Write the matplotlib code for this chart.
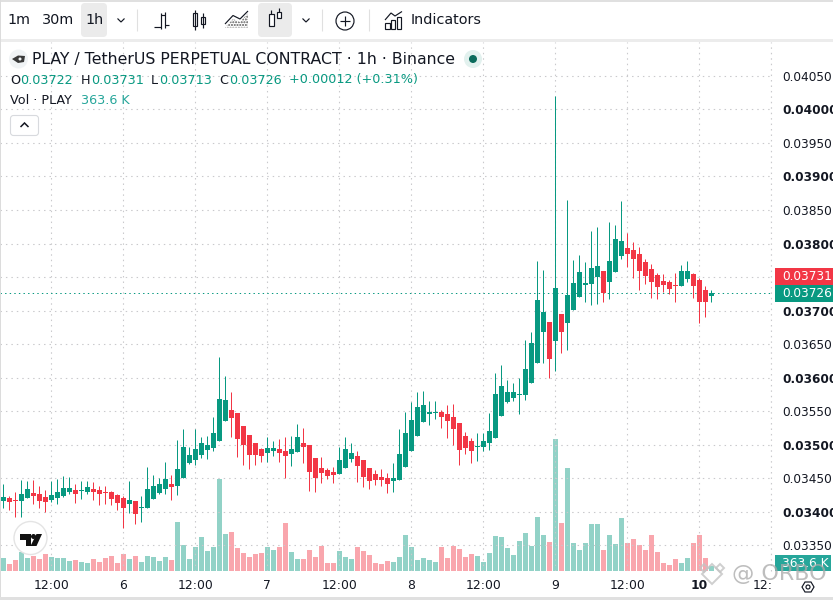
"""
PLAY/USDT perpetual 1h candles with volume, in a TradingView style layout.
Saves out.png (833x600).
"""

import numpy as np
import matplotlib
matplotlib.use("Agg")
import matplotlib.pyplot as plt
from matplotlib.patches import Circle, FancyBboxPatch, Polygon, Rectangle
from matplotlib.transforms import Bbox

# ---------------------------------------------------------------------------
# Data (prices in units of 0.00001, volume in thousands)
# ---------------------------------------------------------------------------
opens = [3417, 3421, 3418, 3417, 3421, 3428, 3427, 3423, 3418, 3421,
         3424, 3430, 3433, 3431, 3430, 3434, 3433, 3430, 3430, 3425,
         3421, 3412, 3417, 3406, 3406, 3420, 3428, 3434, 3442, 3439,
         3451, 3473, 3478, 3485, 3493, 3496, 3506, 3536, 3552, 3548,
         3528, 3515, 3502, 3494, 3488, 3491, 3494, 3491, 3487, 3490,
         3502, 3500, 3481, 3466, 3463, 3460, 3457, 3466, 3479, 3484,
         3478, 3466, 3457, 3452, 3451, 3446, 3448, 3467, 3491, 3513,
         3534, 3546, 3548, 3549, 3546, 3542, 3533, 3513, 3506, 3497,
         3497, 3502, 3510, 3543, 3564, 3570, 3575, 3574, 3592, 3622,
         3668, 3683, 3655, 3695, 3682, 3701, 3720, 3738, 3740, 3750,
         3759, 3743, 3758, 3781, 3793, 3790, 3784, 3772, 3762, 3753,
         3744, 3743, 3738, 3737, 3747, 3755, 3746, 3731, 3722]
highs = [3442, 3424, 3430, 3448, 3446, 3448, 3439, 3433, 3446, 3449,
         3454, 3452, 3442, 3446, 3446, 3445, 3439, 3439, 3431, 3427,
         3424, 3446, 3417, 3424, 3467, 3455, 3451, 3475, 3455, 3507,
         3524, 3497, 3524, 3512, 3513, 3542, 3631, 3603, 3578, 3548,
         3528, 3515, 3503, 3496, 3512, 3506, 3509, 3512, 3513, 3531,
         3525, 3500, 3481, 3482, 3466, 3467, 3497, 3512, 3503, 3491,
         3478, 3466, 3463, 3464, 3458, 3473, 3524, 3549, 3564, 3579,
         3580, 3566, 3566, 3552, 3560, 3561, 3533, 3519, 3510, 3518,
         3518, 3548, 3607, 3619, 3597, 3592, 3600, 3656, 3668, 3774,
         3761, 3683, 4020, 3695, 3865, 3775, 3783, 3772, 3819, 3825,
         3759, 3832, 3828, 3863, 3816, 3802, 3795, 3777, 3769, 3756,
         3755, 3746, 3756, 3768, 3774, 3756, 3749, 3737, 3731]
lows = [3406, 3403, 3393, 3393, 3421, 3412, 3406, 3400, 3415, 3412,
        3423, 3427, 3414, 3420, 3427, 3418, 3411, 3412, 3411, 3403,
        3376, 3399, 3382, 3385, 3406, 3420, 3427, 3427, 3418, 3425,
        3451, 3472, 3470, 3481, 3479, 3491, 3506, 3536, 3512, 3482,
        3470, 3464, 3470, 3475, 3475, 3484, 3475, 3451, 3469, 3490,
        3473, 3431, 3430, 3443, 3449, 3443, 3457, 3466, 3475, 3445,
        3437, 3434, 3440, 3439, 3428, 3430, 3448, 3467, 3491, 3513,
        3534, 3530, 3539, 3525, 3510, 3500, 3470, 3487, 3473, 3476,
        3491, 3493, 3510, 3543, 3563, 3566, 3546, 3567, 3592, 3622,
        3622, 3600, 3610, 3637, 3641, 3701, 3720, 3713, 3708, 3710,
        3713, 3717, 3758, 3777, 3765, 3749, 3731, 3740, 3719, 3717,
        3728, 3725, 3713, 3737, 3743, 3719, 3682, 3691, 3713]
closes = [3423, 3415, 3417, 3427, 3434, 3424, 3417, 3415, 3425, 3430,
          3436, 3436, 3427, 3433, 3437, 3430, 3427, 3428, 3420, 3414,
          3406, 3418, 3397, 3408, 3434, 3439, 3442, 3449, 3437, 3464,
          3497, 3485, 3494, 3502, 3500, 3518, 3569, 3567, 3540, 3509,
          3500, 3485, 3485, 3484, 3496, 3496, 3488, 3484, 3494, 3512,
          3497, 3460, 3451, 3458, 3454, 3455, 3478, 3494, 3488, 3469,
          3452, 3446, 3448, 3448, 3442, 3451, 3487, 3518, 3537, 3557,
          3560, 3549, 3549, 3542, 3536, 3524, 3493, 3496, 3491, 3499,
          3506, 3521, 3576, 3588, 3578, 3579, 3576, 3613, 3652, 3716,
          3698, 3628, 3734, 3668, 3723, 3741, 3758, 3741, 3764, 3766,
          3726, 3774, 3807, 3804, 3784, 3777, 3759, 3752, 3743, 3735,
          3738, 3732, 3737, 3759, 3759, 3737, 3713, 3713, 3726]
volumes = [975, 525, 825, 1425, 975, 1125, 900, 1275, 1050, 975,
           975, 750, 825, 675, 600, 900, 675, 975, 1125, 600,
           1275, 900, 1125, 675, 1125, 1050, 750, 1050, 825, 3675,
           1950, 900, 1800, 2550, 1500, 1800, 6900, 2775, 2925, 1725,
           1350, 1050, 1275, 1350, 1800, 1575, 1800, 3600, 1425, 900,
           900, 1575, 1050, 1875, 600, 600, 1500, 1050, 900, 1800,
           1500, 1200, 600, 525, 750, 675, 1050, 2700, 1800, 825,
           975, 825, 675, 1800, 975, 1875, 1650, 1050, 1275, 1125,
           675, 1350, 2625, 2550, 1725, 1200, 2250, 2850, 1875, 4050,
           2700, 2175, 9900, 3600, 7725, 2100, 1575, 2100, 3525, 3525,
           1575, 2700, 2025, 3975, 2100, 2400, 1950, 1575, 2700, 1425,
           600, 450, 900, 600, 975, 2100, 2700, 975, 363.6]

price_ticks = [0.0335, 0.0340, 0.0345, 0.0350, 0.0355, 0.0360, 0.0365,
               0.0370, 0.0375, 0.0380, 0.0385, 0.0390, 0.0395, 0.0400, 0.0405]
time_ticks = [8, 20, 32, 44, 56, 68, 80, 92, 104, 116, 128]
time_labels = ["12:00", "6", "12:00", "7", "12:00", "8", "12:00", "9", "12:00", "10", "12:00"]

UP = "#089981"
DOWN = "#F23645"
GRID = "#c9c9cc"
TEXT = "#131722"
FONT = "DejaVu Sans"

plt.rcParams["font.family"] = FONT

opens = np.array(opens) / 1e5
highs = np.array(highs) / 1e5
lows = np.array(lows) / 1e5
closes = np.array(closes) / 1e5
volumes = np.array(volumes)
hours = np.arange(len(closes))
rising = closes >= opens
colors = np.where(rising, UP, DOWN)

W, H = 833, 600
fig = plt.figure(figsize=(W / 100, H / 100), dpi=100, facecolor="white")


def box(left, top, right, bottom):
    return [left / W, 1 - bottom / H, (right - left) / W, (bottom - top) / H]


# ---------------------------------------------------------------------------
# Price pane with the volume pane behind it
# ---------------------------------------------------------------------------
ax = fig.add_axes(box(0, 42, 771, 571))
vol = ax.twinx()
ax.set_zorder(vol.get_zorder() + 1)
ax.patch.set_visible(False)

# 6 px per hour, so bodies of 5/6 land on whole pixels
ax.set_xlim(-3.5 / 6, 767.5 / 6)
ax.set_ylim(0.033120, 0.041003)
vol.set_ylim(0, 39675)
vol.axis("off")

vol.bar(hours, volumes, width=5 / 6, color=colors, alpha=0.44, linewidth=0)
ax.vlines(hours, lows, highs, colors=colors, linewidth=0.72, zorder=3)
ax.bar(hours, np.abs(closes - opens), bottom=np.minimum(opens, closes), width=5 / 6,
       color=colors, linewidth=0, zorder=4)

ax.axhline(closes[-1], color=UP, linewidth=0.72, linestyle=(0, (1.4, 3.2)), zorder=2)

for side in ax.spines.values():
    side.set_visible(False)
for side in vol.spines.values():
    side.set_visible(False)

ax.set_yticks(price_ticks)
# 0.03750 sits behind the two price tags, so it gets no label
ax.set_yticklabels(["" if round(p * 1e5) == 3750 else "%.5f" % p for p in price_ticks])
ax.yaxis.tick_right()
ax.tick_params(axis="y", length=0, pad=8, labelsize=8.75, labelcolor=TEXT)
for p, label in zip(price_ticks, ax.get_yticklabels()):
    if round(p * 1e5) % 100 == 0:
        label.set_fontweight("bold")

ax.set_xticks(time_ticks)
ax.set_xticklabels(time_labels)
ax.tick_params(axis="x", length=0, pad=6, labelsize=8.9, labelcolor=TEXT)
time_clip = Bbox([[0, 0], [771, H]])
for t, label in zip(time_ticks, ax.get_xticklabels()):
    label.set_clip_on(True)
    label.set_clip_box(time_clip)
    if t == 116:
        label.set_fontweight("bold")

ax.set_axisbelow(True)
ax.grid(True, color=GRID, linewidth=0.8, linestyle=(0, (1.3, 3.6)))
ax.vlines(128, *ax.get_ylim(), color=GRID, linewidth=0.8, linestyle=(0, (1.3, 3.6)), clip_on=False)

# ---------------------------------------------------------------------------
# Overlay in pixel coordinates: toolbar, legend, tags
# ---------------------------------------------------------------------------
ui = fig.add_axes([0, 0, 1, 1], zorder=10)
ui.set_xlim(0, W)
ui.set_ylim(H, 0)
ui.axis("off")
ui.patch.set_visible(False)


def rect(x0, y0, x1, y1, color, **kw):
    ui.add_patch(Rectangle((x0, y0), x1 - x0, y1 - y0, facecolor=color, linewidth=0, **kw))


def rounded(x0, y0, x1, y1, face, edge="none", r=4):
    ui.add_patch(FancyBboxPatch((x0 + r, y0 + r), x1 - x0 - 2 * r, y1 - y0 - 2 * r,
                                boxstyle="round,pad=%d,rounding_size=%d" % (r, r),
                                facecolor=face, edgecolor=edge, linewidth=0.8))


def stroke(xs, ys, color=TEXT, lw=0.85):
    ui.plot(xs, ys, color=color, linewidth=lw, solid_capstyle="butt", solid_joinstyle="miter")


def outlined(x0, y0, x1, y1):
    ui.add_patch(Rectangle((x0, y0), x1 - x0, y1 - y0, facecolor="white", edgecolor=TEXT, linewidth=0.85))


# window edges and toolbar band
rect(0, 0, W, 1.5, "#e0e0e0")
rect(0, 39, W, 42, "#ececec")
rect(0, 0, 1.2, H, "#dcdcdc")
rect(0, 597, W, H, "#e0e0e0")
rect(0, 1.5, W, 39, "white", zorder=0.5)

rounded(81, 3, 107, 37, "#ebebeb")
rounded(258, 3, 292, 37, "#ebebeb")

ui.text(7.5, 20.5, "1m", fontsize=10.4, color=TEXT, va="center")
ui.text(41.5, 20.5, "30m", fontsize=10.4, color=TEXT, va="center")
ui.text(85, 20.5, "1h", fontsize=10.4, color=TEXT, va="center")
ui.text(411, 20.5, "Indicators", fontsize=10.4, color=TEXT, va="center")

for cx in (121, 306):
    stroke([cx - 3.5, cx, cx + 3.5], [18.5, 22, 18.5])
for sx in (137.5, 322.5, 369.5):
    stroke([sx, sx], [9, 31], color="#e0e0e0", lw=0.8)

# bars icon
stroke([161, 161], [13, 29])
stroke([165.5, 165.5], [12, 28])
stroke([154.5, 161], [27, 27])
stroke([161, 165.5], [15, 15])
stroke([165.5, 169.5], [25, 25])
# candles icon
stroke([195.5, 195.5], [10, 30])
outlined(193, 13, 197.5, 26)
stroke([203.5, 203.5], [13, 28])
outlined(201.5, 17, 205.5, 24)
# area icon
ui.add_patch(Polygon([(225, 27.5), (233, 19), (240, 22), (248, 13), (248, 27.5)], closed=True,
                     facecolor="white", edgecolor="#555555", hatch="......", linewidth=0))
stroke([225, 233, 240, 248], [24, 15.5, 19, 11])
# selected candles icon
stroke([271.5, 271.5], [9.5, 14])
outlined(269, 14, 274, 26)
stroke([279.5, 279.5], [8, 12])
outlined(277.5, 12, 281.5, 18)
# plus icon
ui.add_patch(Circle((345, 21), 9, facecolor="none", edgecolor=TEXT, linewidth=0.85))
stroke([340, 350], [21, 21])
stroke([345, 345], [16, 26])
# indicators icon
outlined(385.5, 23, 390, 28.5)
outlined(391, 20, 395.5, 28.5)
outlined(397, 17, 401.5, 28.5)
stroke([385, 391, 395, 402], [20, 13, 16, 11.5])

# legend
ui.add_patch(Circle((18.5, 59), 9.5, facecolor="#f0f3f5", edgecolor="none"))
ui.add_patch(Polygon([(12, 59), (18, 55.5), (25, 56), (24, 62), (18, 63)], closed=True,
                     facecolor="#3a3a3a", edgecolor="none"))
ui.add_patch(Circle((20, 59), 1.5, facecolor="#f0f3f5", edgecolor="none"))
ui.text(32.5, 59.5, "PLAY / TetherUS PERPETUAL CONTRACT · 1h · Binance",
        fontsize=11.3, color=TEXT, va="center")
ui.add_patch(Circle((473, 59), 9, facecolor="#e2f1ee", edgecolor="none"))
ui.add_patch(Circle((473, 59), 4, facecolor="#0b6b5c", edgecolor="none"))

legend_y = 80
pairs = [(10, "O", TEXT), (20.5, "0.03722", UP), (81, "H", TEXT), (91.5, "0.03731", UP),
         (151, "L", TEXT), (159.5, "0.03713", UP), (219, "C", TEXT), (229.5, "0.03726", UP),
         (289.5, "+0.00012 (+0.31%)", UP)]
for px, txt, col in pairs:
    ui.text(px, legend_y, txt, fontsize=9.2, color=col, va="center")
ui.text(10, 100.5, "Vol · PLAY", fontsize=9.2, color=TEXT, va="center")
ui.text(81.5, 100.5, "363.6 K", fontsize=9.2, color="#26a69a", va="center")

rounded(10.5, 115.5, 38.5, 135.5, "white", edge="#d8dade", r=3)
stroke([20.5, 24.5, 28.5], [127, 123, 127], lw=1.1)

# TradingView badge
ui.add_patch(Circle((30.5, 538), 16.5, facecolor="white", edgecolor="#e4e4e4", linewidth=1.0))
ui.add_patch(Polygon([(20, 534), (31, 534), (31, 546), (26, 546), (26, 539.5), (20, 539.5)],
                     closed=True, facecolor="#111111", edgecolor="none"))
ui.add_patch(Circle((33.5, 536.5), 2.5, facecolor="#111111", edgecolor="none"))
ui.add_patch(Polygon([(36.5, 534), (42, 534), (36.5, 546), (30.5, 546)], closed=True,
                     facecolor="#111111", edgecolor="none"))

# price scale tags
rect(775, 268, W, 285, DOWN)
rect(775, 285, W, 302, UP)
ui.text(782.5, 276.7, "0.03731", fontsize=8.75, color="white", va="center")
ui.text(782.5, 293.7, "0.03726", fontsize=8.75, color="white", va="center")
rect(775, 555, 831, 571, "#26a69a")
ui.text(782.5, 563.5, "363.6 K", fontsize=8.75, color="white", va="center")

# settings icon
ui.add_patch(Polygon([(802, 587), (805, 582), (811, 582), (814, 587), (811, 592), (805, 592)],
                     closed=True, facecolor="white", edgecolor=TEXT, linewidth=0.85))
ui.add_patch(Circle((808, 587), 2, facecolor="white", edgecolor=TEXT, linewidth=0.85))

# watermark
for cx, cy, s in [(712, 574, 10), (704, 568, 4), (720, 568, 4)]:
    ui.add_patch(Polygon([(cx - s, cy), (cx, cy - s), (cx + s, cy), (cx, cy + s)], closed=True,
                         facecolor="none", edgecolor="#c4c4c4", linewidth=1.4, alpha=0.8))
ui.text(732, 574.5, "@ ORBO", fontsize=16, color="#a8a8a8", alpha=0.75, va="center")

fig.savefig("out.png", dpi=100, facecolor="white")
plt.close(fig)
